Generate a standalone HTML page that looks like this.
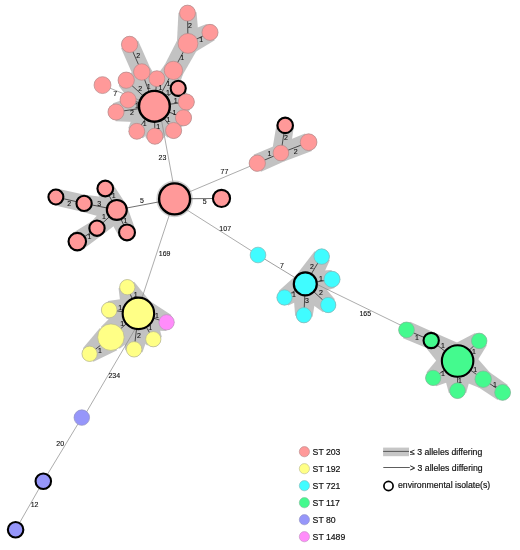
<!DOCTYPE html>
<html><head><meta charset="utf-8"><title>MST</title><style>html,body{margin:0;padding:0;background:#fff}svg{display:block}</style></head><body>
<svg width="520" height="550" viewBox="0 0 520 550" font-family="'Liberation Sans', Arial, sans-serif">
<rect width="520" height="550" fill="#fff"/>
<g fill="#C2C2C2" stroke="none">
<path d="M163.14 92.30 L131.13 72.31 L118.72 85.72 L141.12 116.09Z"/>
<path d="M168.49 97.71 L149.83 67.11 L132.51 73.47 L138.10 108.87Z"/>
<path d="M170.63 103.35 L165.85 77.07 L148.39 75.49 L138.96 100.48Z"/>
<path d="M169.99 111.70 L183.13 73.77 L165.14 64.25 L141.17 96.45Z"/>
<path d="M167.52 116.31 L184.96 93.46 L175.08 80.39 L148.34 90.95Z"/>
<path d="M160.26 121.73 L189.56 110.60 L187.17 92.84 L155.96 89.87Z"/>
<path d="M152.08 122.64 L182.21 126.91 L188.78 110.27 L163.88 92.79Z"/>
<path d="M144.26 119.32 L167.95 137.76 L181.95 126.65 L169.38 99.39Z"/>
<path d="M138.47 110.59 L146.02 138.59 L163.86 138.30 L170.47 110.06Z"/>
<path d="M139.01 100.35 L128.31 128.02 L142.75 138.18 L165.19 118.78Z"/>
<path d="M148.95 90.73 L112.96 103.32 L115.62 121.19 L153.71 122.79Z"/>
<path d="M153.83 89.81 L127.78 90.71 L123.59 107.92 L146.32 120.69Z"/>
<path d="M150.38 68.17 L138.09 40.61 L121.08 48.13 L133.19 75.77Z"/>
<path d="M182.33 75.53 L197.62 48.93 L178.10 38.38 L164.22 65.74Z"/>
<path d="M199.06 42.48 L196.57 12.35 L178.41 12.65 L176.91 42.85Z"/>
<path d="M193.72 52.92 L214.74 40.29 L206.53 23.88 L183.82 33.12Z"/>
<path d="M261.09 171.69 L284.57 161.22 L277.43 144.70 L253.71 154.62Z"/>
<path d="M284.03 161.44 L311.90 151.11 L305.00 133.41 L277.49 144.67Z"/>
<path d="M289.81 154.29 L293.81 126.65 L276.62 123.97 L272.02 151.52Z"/>
<path d="M125.92 203.93 L112.66 183.68 L97.22 191.98 L106.79 214.21Z"/>
<path d="M118.18 199.09 L85.19 194.87 L81.85 211.70 L113.94 220.42Z"/>
<path d="M85.95 195.00 L57.70 188.80 L53.98 205.18 L82.14 211.77Z"/>
<path d="M108.75 202.56 L90.65 222.41 L102.28 234.99 L123.49 218.51Z"/>
<path d="M92.50 220.87 L72.22 233.34 L83.12 249.36 L102.16 235.08Z"/>
<path d="M107.27 215.19 L119.22 236.72 L135.38 229.39 L127.06 206.22Z"/>
<path d="M151.36 302.87 L134.13 281.65 L118.56 288.25 L121.82 315.39Z"/>
<path d="M135.92 296.89 L107.86 301.10 L105.85 318.35 L132.19 328.90Z"/>
<path d="M126.69 301.49 L100.81 326.93 L119.62 348.66 L148.51 326.69Z"/>
<path d="M99.89 327.92 L82.87 348.13 L93.45 361.71 L117.20 350.15Z"/>
<path d="M121.78 315.04 L125.24 350.17 L142.50 352.24 L154.16 318.92Z"/>
<path d="M126.67 325.29 L147.12 345.46 L161.81 336.98 L154.56 309.18Z"/>
<path d="M137.81 330.09 L166.29 331.09 L171.39 314.92 L147.50 299.40Z"/>
<path d="M316.67 289.08 L329.80 260.29 L314.64 251.18 L295.38 276.29Z"/>
<path d="M308.91 295.87 L334.65 288.11 L331.55 270.11 L304.69 271.41Z"/>
<path d="M297.98 294.03 L323.05 312.13 L334.89 299.28 L314.80 275.78Z"/>
<path d="M292.83 284.82 L295.12 315.85 L312.58 316.63 L317.63 285.93Z"/>
<path d="M296.98 274.57 L278.64 290.93 L288.17 305.50 L310.51 295.26Z"/>
<path d="M403.07 338.22 L427.93 348.45 L434.71 332.65 L410.17 321.68Z"/>
<path d="M424.44 345.82 L444.53 371.33 L464.38 345.72 L434.67 332.63Z"/>
<path d="M471.87 369.76 L486.78 345.57 L475.07 333.02 L449.90 346.21Z"/>
<path d="M444.84 350.28 L426.45 372.25 L436.10 386.21 L463.15 376.77Z"/>
<path d="M441.50 365.25 L448.80 392.99 L466.18 393.08 L473.76 365.41Z"/>
<path d="M451.39 376.48 L479.68 387.92 L490.29 373.02 L470.24 350.03Z"/>
<path d="M478.01 387.04 L497.58 399.99 L507.81 384.94 L488.59 371.50Z"/>
<circle cx="321.7" cy="256.6" r="7.8"/>
<circle cx="105.3" cy="188.5" r="8.6"/>
<circle cx="55.9" cy="197.0" r="8.2"/>
<circle cx="153.3" cy="339.2" r="7.7"/>
<circle cx="457.5" cy="390.7" r="7.9"/>
<circle cx="431.2" cy="340.5" r="8.4"/>
<circle cx="303.9" cy="315.2" r="7.7"/>
<circle cx="128.1" cy="99.9" r="8.1"/>
<circle cx="77.3" cy="241.6" r="9.5"/>
<circle cx="84.1" cy="203.4" r="8.4"/>
<circle cx="502.6" cy="392.4" r="8.0"/>
<circle cx="406.5" cy="329.9" r="7.9"/>
<circle cx="116.0" cy="112.0" r="8.1"/>
<circle cx="154.9" cy="136.2" r="8.1"/>
<circle cx="129.6" cy="44.4" r="8.2"/>
<circle cx="187.5" cy="13.1" r="8.0"/>
<circle cx="89.6" cy="353.8" r="7.7"/>
<circle cx="280.9" cy="153.0" r="7.9"/>
<circle cx="126.2" cy="80.2" r="8.2"/>
<circle cx="433.2" cy="377.9" r="7.7"/>
<circle cx="332.0" cy="279.3" r="8.1"/>
<circle cx="328.2" cy="305.0" r="7.7"/>
<circle cx="156.9" cy="78.7" r="8.0"/>
<circle cx="134.1" cy="349.3" r="7.8"/>
<circle cx="305.3" cy="283.9" r="12.3"/>
<circle cx="110.9" cy="337.2" r="13.3"/>
<circle cx="166.6" cy="322.3" r="7.7"/>
<circle cx="479.2" cy="340.9" r="7.8"/>
<circle cx="127.0" cy="232.4" r="8.7"/>
<circle cx="186.3" cy="102.0" r="8.1"/>
<circle cx="127.3" cy="287.2" r="7.7"/>
<circle cx="173.6" cy="130.5" r="8.1"/>
<circle cx="188.0" cy="43.4" r="10.0"/>
<circle cx="210.0" cy="32.4" r="8.1"/>
<circle cx="285.2" cy="125.4" r="8.5"/>
<circle cx="183.5" cy="117.8" r="8.1"/>
<circle cx="154.4" cy="106.3" r="16.3"/>
<circle cx="308.6" cy="142.2" r="8.4"/>
<circle cx="173.4" cy="70.4" r="9.2"/>
<circle cx="257.3" cy="163.2" r="8.2"/>
<circle cx="97.0" cy="228.2" r="8.4"/>
<circle cx="138.4" cy="313.4" r="16.5"/>
<circle cx="136.8" cy="131.3" r="8.0"/>
<circle cx="178.2" cy="88.3" r="8.3"/>
<circle cx="109.2" cy="310.0" r="7.9"/>
<circle cx="457.6" cy="361.0" r="16.5"/>
<circle cx="483.2" cy="379.2" r="8.3"/>
<circle cx="284.5" cy="297.5" r="7.7"/>
<circle cx="141.8" cy="72.0" r="8.3"/>
<circle cx="116.8" cy="209.9" r="10.7"/>
</g>
<circle cx="174.6" cy="198.9" r="18.3" fill="#D0D0D0"/>
<line x1="154.4" y1="106.3" x2="102.5" y2="85.1" stroke="#8c8c8c" stroke-width="0.72"/>
<line x1="154.4" y1="106.3" x2="126.2" y2="80.2" stroke="#222" stroke-width="0.75"/>
<line x1="154.4" y1="106.3" x2="141.8" y2="72.0" stroke="#222" stroke-width="0.75"/>
<line x1="154.4" y1="106.3" x2="156.9" y2="78.7" stroke="#222" stroke-width="0.75"/>
<line x1="154.4" y1="106.3" x2="173.4" y2="70.4" stroke="#222" stroke-width="0.75"/>
<line x1="154.4" y1="106.3" x2="178.2" y2="88.3" stroke="#222" stroke-width="0.75"/>
<line x1="154.4" y1="106.3" x2="186.3" y2="102.0" stroke="#222" stroke-width="0.75"/>
<line x1="154.4" y1="106.3" x2="183.5" y2="117.8" stroke="#222" stroke-width="0.75"/>
<line x1="154.4" y1="106.3" x2="173.6" y2="130.5" stroke="#222" stroke-width="0.75"/>
<line x1="154.4" y1="106.3" x2="154.9" y2="136.2" stroke="#222" stroke-width="0.75"/>
<line x1="154.4" y1="106.3" x2="136.8" y2="131.3" stroke="#222" stroke-width="0.75"/>
<line x1="154.4" y1="106.3" x2="116.0" y2="112.0" stroke="#222" stroke-width="0.75"/>
<line x1="154.4" y1="106.3" x2="128.1" y2="99.9" stroke="#222" stroke-width="0.75"/>
<line x1="141.8" y1="72.0" x2="129.6" y2="44.4" stroke="#222" stroke-width="0.75"/>
<line x1="173.4" y1="70.4" x2="188.0" y2="43.4" stroke="#222" stroke-width="0.75"/>
<line x1="188.0" y1="43.4" x2="187.5" y2="13.1" stroke="#222" stroke-width="0.75"/>
<line x1="188.0" y1="43.4" x2="210.0" y2="32.4" stroke="#222" stroke-width="0.75"/>
<line x1="176.1" y1="199.0" x2="158.9" y2="106.3" stroke="#8c8c8c" stroke-width="0.72"/>
<line x1="174.6" y1="198.9" x2="221.5" y2="198.4" stroke="#686868" stroke-width="0.95"/>
<line x1="174.6" y1="198.1" x2="257.3" y2="163.2" stroke="#8c8c8c" stroke-width="0.72"/>
<line x1="257.3" y1="163.2" x2="280.9" y2="153.0" stroke="#222" stroke-width="0.75"/>
<line x1="280.9" y1="153.0" x2="308.6" y2="142.2" stroke="#222" stroke-width="0.75"/>
<line x1="280.9" y1="153.0" x2="285.2" y2="125.4" stroke="#222" stroke-width="0.75"/>
<line x1="174.6" y1="198.9" x2="116.8" y2="209.9" stroke="#686868" stroke-width="0.95"/>
<line x1="116.8" y1="209.9" x2="105.3" y2="188.5" stroke="#222" stroke-width="0.75"/>
<line x1="116.8" y1="209.9" x2="84.1" y2="203.4" stroke="#222" stroke-width="0.75"/>
<line x1="84.1" y1="203.4" x2="55.9" y2="197.0" stroke="#222" stroke-width="0.75"/>
<line x1="116.8" y1="209.9" x2="97.0" y2="228.2" stroke="#222" stroke-width="0.75"/>
<line x1="97.0" y1="228.2" x2="77.3" y2="241.6" stroke="#222" stroke-width="0.75"/>
<line x1="116.8" y1="209.9" x2="127.0" y2="232.4" stroke="#222" stroke-width="0.75"/>
<line x1="174.6" y1="198.9" x2="136.9" y2="313.4" stroke="#8c8c8c" stroke-width="0.72"/>
<line x1="138.4" y1="313.4" x2="127.3" y2="287.2" stroke="#222" stroke-width="0.75"/>
<line x1="138.4" y1="313.4" x2="109.2" y2="310.0" stroke="#222" stroke-width="0.75"/>
<line x1="138.4" y1="313.4" x2="110.9" y2="337.2" stroke="#222" stroke-width="0.75"/>
<line x1="110.9" y1="337.2" x2="89.6" y2="353.8" stroke="#222" stroke-width="0.75"/>
<line x1="138.4" y1="313.4" x2="134.1" y2="349.3" stroke="#222" stroke-width="0.75"/>
<line x1="138.4" y1="313.4" x2="153.3" y2="339.2" stroke="#222" stroke-width="0.75"/>
<line x1="138.4" y1="313.4" x2="166.6" y2="322.3" stroke="#222" stroke-width="0.75"/>
<line x1="144.3" y1="313.4" x2="83.2" y2="417.7" stroke="#8c8c8c" stroke-width="0.72"/>
<line x1="81.8" y1="417.6" x2="43.3" y2="481.2" stroke="#8c8c8c" stroke-width="0.72"/>
<line x1="43.3" y1="481.2" x2="15.6" y2="529.8" stroke="#8c8c8c" stroke-width="0.72"/>
<line x1="174.6" y1="202.1" x2="258.0" y2="255.0" stroke="#8c8c8c" stroke-width="0.72"/>
<line x1="258.0" y1="255.0" x2="305.3" y2="283.9" stroke="#868686" stroke-width="0.8"/>
<line x1="305.3" y1="283.9" x2="321.7" y2="256.6" stroke="#222" stroke-width="0.75"/>
<line x1="305.3" y1="283.9" x2="332.0" y2="279.3" stroke="#222" stroke-width="0.75"/>
<line x1="305.3" y1="283.9" x2="328.2" y2="305.0" stroke="#222" stroke-width="0.75"/>
<line x1="305.3" y1="283.9" x2="303.9" y2="315.2" stroke="#222" stroke-width="0.75"/>
<line x1="305.3" y1="283.9" x2="284.5" y2="297.5" stroke="#222" stroke-width="0.75"/>
<line x1="305.3" y1="278.7" x2="406.5" y2="328.0" stroke="#8c8c8c" stroke-width="0.72"/>
<line x1="406.5" y1="329.9" x2="431.2" y2="340.5" stroke="#222" stroke-width="0.75"/>
<line x1="431.2" y1="340.5" x2="457.6" y2="361.0" stroke="#222" stroke-width="0.75"/>
<line x1="457.6" y1="361.0" x2="479.2" y2="340.9" stroke="#222" stroke-width="0.75"/>
<line x1="457.6" y1="361.0" x2="433.2" y2="377.9" stroke="#222" stroke-width="0.75"/>
<line x1="457.6" y1="361.0" x2="457.5" y2="390.7" stroke="#222" stroke-width="0.75"/>
<line x1="457.6" y1="361.0" x2="483.2" y2="379.2" stroke="#222" stroke-width="0.75"/>
<line x1="483.2" y1="379.2" x2="502.6" y2="392.4" stroke="#222" stroke-width="0.75"/>
<circle cx="154.4" cy="106.3" r="15.40" fill="#FF9999" stroke="#000" stroke-width="2.4"/>
<circle cx="102.5" cy="85.1" r="8.45" fill="#FF9999" stroke="#B48A8A" stroke-width="0.7"/>
<circle cx="126.2" cy="80.2" r="8.15" fill="#FF9999" stroke="#B48A8A" stroke-width="0.7"/>
<circle cx="141.8" cy="72.0" r="8.25" fill="#FF9999" stroke="#B48A8A" stroke-width="0.7"/>
<circle cx="156.9" cy="78.7" r="7.95" fill="#FF9999" stroke="#B48A8A" stroke-width="0.7"/>
<circle cx="173.4" cy="70.4" r="9.15" fill="#FF9999" stroke="#B48A8A" stroke-width="0.7"/>
<circle cx="178.2" cy="88.3" r="7.55" fill="#FF9999" stroke="#000" stroke-width="2.1"/>
<circle cx="186.3" cy="102.0" r="8.05" fill="#FF9999" stroke="#B48A8A" stroke-width="0.7"/>
<circle cx="183.5" cy="117.8" r="8.05" fill="#FF9999" stroke="#B48A8A" stroke-width="0.7"/>
<circle cx="173.6" cy="130.5" r="8.05" fill="#FF9999" stroke="#B48A8A" stroke-width="0.7"/>
<circle cx="154.9" cy="136.2" r="8.05" fill="#FF9999" stroke="#B48A8A" stroke-width="0.7"/>
<circle cx="136.8" cy="131.3" r="7.95" fill="#FF9999" stroke="#B48A8A" stroke-width="0.7"/>
<circle cx="116.0" cy="112.0" r="8.05" fill="#FF9999" stroke="#B48A8A" stroke-width="0.7"/>
<circle cx="128.1" cy="99.9" r="8.05" fill="#FF9999" stroke="#B48A8A" stroke-width="0.7"/>
<circle cx="129.6" cy="44.4" r="8.15" fill="#FF9999" stroke="#B48A8A" stroke-width="0.7"/>
<circle cx="188.0" cy="43.4" r="9.95" fill="#FF9999" stroke="#B48A8A" stroke-width="0.7"/>
<circle cx="187.5" cy="13.1" r="7.95" fill="#FF9999" stroke="#B48A8A" stroke-width="0.7"/>
<circle cx="210.0" cy="32.4" r="8.05" fill="#FF9999" stroke="#B48A8A" stroke-width="0.7"/>
<circle cx="174.6" cy="198.9" r="15.50" fill="#FF9999" stroke="#000" stroke-width="2.4"/>
<circle cx="221.5" cy="198.4" r="8.55" fill="#FF9999" stroke="#000" stroke-width="2.1"/>
<circle cx="257.3" cy="163.2" r="8.15" fill="#FF9999" stroke="#B48A8A" stroke-width="0.7"/>
<circle cx="280.9" cy="153.0" r="7.85" fill="#FF9999" stroke="#B48A8A" stroke-width="0.7"/>
<circle cx="308.6" cy="142.2" r="8.35" fill="#FF9999" stroke="#B48A8A" stroke-width="0.7"/>
<circle cx="285.2" cy="125.4" r="7.75" fill="#FF9999" stroke="#000" stroke-width="2.1"/>
<circle cx="116.8" cy="209.9" r="9.95" fill="#FF9999" stroke="#000" stroke-width="2.1"/>
<circle cx="55.9" cy="197.0" r="7.45" fill="#FF9999" stroke="#000" stroke-width="2.1"/>
<circle cx="84.1" cy="203.4" r="7.65" fill="#FF9999" stroke="#000" stroke-width="2.1"/>
<circle cx="105.3" cy="188.5" r="7.85" fill="#FF9999" stroke="#000" stroke-width="2.1"/>
<circle cx="97.0" cy="228.2" r="7.65" fill="#FF9999" stroke="#000" stroke-width="2.1"/>
<circle cx="77.3" cy="241.6" r="8.75" fill="#FF9999" stroke="#000" stroke-width="2.1"/>
<circle cx="127.0" cy="232.4" r="7.95" fill="#FF9999" stroke="#000" stroke-width="2.1"/>
<circle cx="138.4" cy="313.4" r="15.75" fill="#FFFF86" stroke="#000" stroke-width="2.1"/>
<circle cx="127.3" cy="287.2" r="7.65" fill="#FFFF86" stroke="#B8B890" stroke-width="0.7"/>
<circle cx="109.2" cy="310.0" r="7.85" fill="#FFFF86" stroke="#B8B890" stroke-width="0.7"/>
<circle cx="110.9" cy="337.2" r="13.25" fill="#FFFF86" stroke="#B8B890" stroke-width="0.7"/>
<circle cx="89.6" cy="353.8" r="7.65" fill="#FFFF86" stroke="#B8B890" stroke-width="0.7"/>
<circle cx="134.1" cy="349.3" r="7.75" fill="#FFFF86" stroke="#B8B890" stroke-width="0.7"/>
<circle cx="153.3" cy="339.2" r="7.65" fill="#FFFF86" stroke="#B8B890" stroke-width="0.7"/>
<circle cx="166.6" cy="322.3" r="7.65" fill="#FF8CFA" stroke="#C090C0" stroke-width="0.7"/>
<circle cx="258.0" cy="255.0" r="7.85" fill="#40FCFF" stroke="#80B8B8" stroke-width="0.7"/>
<circle cx="305.3" cy="283.9" r="11.50" fill="#40FCFF" stroke="#000" stroke-width="2.2"/>
<circle cx="321.7" cy="256.6" r="7.75" fill="#40FCFF" stroke="#80B8B8" stroke-width="0.7"/>
<circle cx="332.0" cy="279.3" r="8.05" fill="#40FCFF" stroke="#80B8B8" stroke-width="0.7"/>
<circle cx="328.2" cy="305.0" r="7.65" fill="#40FCFF" stroke="#80B8B8" stroke-width="0.7"/>
<circle cx="303.9" cy="315.2" r="7.65" fill="#40FCFF" stroke="#80B8B8" stroke-width="0.7"/>
<circle cx="284.5" cy="297.5" r="7.65" fill="#40FCFF" stroke="#80B8B8" stroke-width="0.7"/>
<circle cx="457.6" cy="361.0" r="15.75" fill="#44FA8E" stroke="#000" stroke-width="2.1"/>
<circle cx="406.5" cy="329.9" r="7.85" fill="#44FA8E" stroke="#80B898" stroke-width="0.7"/>
<circle cx="431.2" cy="340.5" r="7.65" fill="#44FA8E" stroke="#000" stroke-width="2.1"/>
<circle cx="479.2" cy="340.9" r="7.75" fill="#44FA8E" stroke="#80B898" stroke-width="0.7"/>
<circle cx="433.2" cy="377.9" r="7.65" fill="#44FA8E" stroke="#80B898" stroke-width="0.7"/>
<circle cx="457.5" cy="390.7" r="7.85" fill="#44FA8E" stroke="#80B898" stroke-width="0.7"/>
<circle cx="483.2" cy="379.2" r="8.25" fill="#44FA8E" stroke="#80B898" stroke-width="0.7"/>
<circle cx="502.6" cy="392.4" r="7.95" fill="#44FA8E" stroke="#80B898" stroke-width="0.7"/>
<circle cx="81.8" cy="417.6" r="7.75" fill="#9696FA" stroke="#9090C0" stroke-width="0.7"/>
<circle cx="43.3" cy="481.2" r="7.75" fill="#9696FA" stroke="#000" stroke-width="2.1"/>
<circle cx="15.6" cy="529.8" r="7.75" fill="#9696FA" stroke="#000" stroke-width="2.1"/>
<g font-size="7" fill="#111" stroke="#111" stroke-width="0.12" text-anchor="middle">
<text x="115.2" y="95.9">7</text>
<text x="140.2" y="91.0">2</text>
<text x="148.8" y="89.2">1</text>
<text x="160.4" y="90.4">1</text>
<text x="168.5" y="85.8">1</text>
<text x="167.9" y="95.0">1</text>
<text x="175.6" y="102.7">1</text>
<text x="174.5" y="114.6">1</text>
<text x="168.5" y="122.3">1</text>
<text x="158.3" y="128.8">1</text>
<text x="144.6" y="125.8">1</text>
<text x="131.9" y="115.2">2</text>
<text x="136.9" y="107.5">1</text>
<text x="138.3" y="58.0">2</text>
<text x="182.2" y="60.3">1</text>
<text x="190.0" y="27.5">2</text>
<text x="201.3" y="42.0">1</text>
<text x="162.5" y="160.2">23</text>
<text x="204.8" y="204.3">5</text>
<text x="224.4" y="173.7">77</text>
<text x="269.4" y="156.4">1</text>
<text x="295.7" y="153.8">2</text>
<text x="286.0" y="140.2">2</text>
<text x="142.0" y="203.0">5</text>
<text x="113.6" y="198.2">1</text>
<text x="99.2" y="205.8">3</text>
<text x="69.3" y="206.2">2</text>
<text x="104.0" y="218.7">1</text>
<text x="89.4" y="239.1">1</text>
<text x="125.5" y="222.5">1</text>
<text x="164.6" y="255.5">169</text>
<text x="135.8" y="297.0">1</text>
<text x="120.3" y="310.3">1</text>
<text x="122.3" y="325.5">1</text>
<text x="100.0" y="352.5">1</text>
<text x="139.0" y="338.0">2</text>
<text x="150.3" y="329.9">1</text>
<text x="157.0" y="317.5">1</text>
<text x="114.3" y="378.1">234</text>
<text x="60.2" y="445.8">20</text>
<text x="34.6" y="506.6">12</text>
<text x="225.2" y="231.1">107</text>
<text x="282.0" y="268.0">7</text>
<text x="312.0" y="268.5">2</text>
<text x="321.0" y="280.5">1</text>
<text x="321.0" y="294.5">2</text>
<text x="307.0" y="302.5">3</text>
<text x="294.0" y="297.0">1</text>
<text x="365.3" y="315.9">165</text>
<text x="417.0" y="340.0">1</text>
<text x="443.0" y="348.0">1</text>
<text x="474.0" y="353.5">1</text>
<text x="443.0" y="375.5">1</text>
<text x="460.0" y="382.5">1</text>
<text x="475.1" y="371.5">1</text>
<text x="495.0" y="386.5">1</text>
</g>
<g font-size="8.7" fill="#111" stroke="#111" stroke-width="0.18">
<circle cx="304.4" cy="451.7" r="5.1" fill="#FF9999" stroke="#B48A8A" stroke-width="0.6"/>
<text x="312.6" y="454.8">ST 203</text>
<circle cx="304.4" cy="468.7" r="5.1" fill="#FFFF86" stroke="#B8B890" stroke-width="0.6"/>
<text x="312.6" y="471.8">ST 192</text>
<circle cx="304.4" cy="485.7" r="5.1" fill="#40FCFF" stroke="#80B8B8" stroke-width="0.6"/>
<text x="312.6" y="488.8">ST 721</text>
<circle cx="304.4" cy="502.7" r="5.1" fill="#44FA8E" stroke="#80B898" stroke-width="0.6"/>
<text x="312.6" y="505.8">ST 117</text>
<circle cx="304.4" cy="519.7" r="5.1" fill="#9696FA" stroke="#9090C0" stroke-width="0.6"/>
<text x="312.6" y="522.8">ST 80</text>
<circle cx="304.4" cy="536.7" r="5.1" fill="#FF8CFA" stroke="#C090C0" stroke-width="0.6"/>
<text x="312.6" y="539.8">ST 1489</text>
<rect x="383.1" y="447.6" width="25.9" height="8.6" fill="#C6C6C6" stroke="none"/>
<line x1="383.1" y1="451.4" x2="409" y2="451.4" stroke="#585858" stroke-width="1.0"/>
<text x="410" y="455">≤ 3 alleles differing</text>
<line x1="383.3" y1="467.5" x2="409.8" y2="467.5" stroke="#333" stroke-width="0.8"/>
<text x="410.1" y="471.0">&gt; 3 alleles differing</text>
<circle cx="388.5" cy="486.0" r="4.6" fill="#fff" stroke="#000" stroke-width="1.7"/>
<text x="398" y="488.0">environmental isolate(s)</text>
</g>
</svg>
</body></html>
